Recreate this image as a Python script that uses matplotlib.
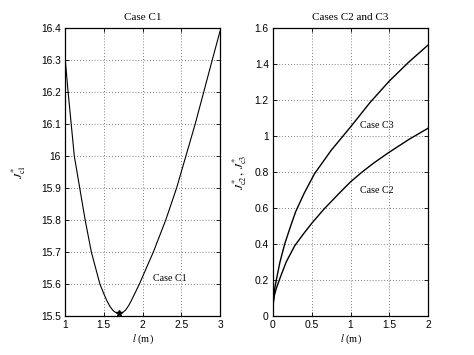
import matplotlib
matplotlib.use("Agg")
import matplotlib.pyplot as plt

# ---- data ----
l_c1 = [1.00, 1.04, 1.08, 1.12, 1.19, 1.26, 1.34, 1.45, 1.50, 1.54, 1.58, 1.62, 1.66, 1.70,
        1.74, 1.78, 1.82, 1.86, 1.91, 1.96, 2.05, 2.14, 2.30, 2.44, 2.56, 2.68, 2.79, 2.90, 3.00]
J_c1 = [16.31, 16.20, 16.10, 16.00, 15.90, 15.80, 15.70, 15.60, 15.57, 15.548, 15.53, 15.517, 15.51, 15.508,
        15.51, 15.518, 15.532, 15.55, 15.575, 15.60, 15.65, 15.70, 15.80, 15.90, 16.00, 16.10, 16.20, 16.30, 16.39]
l_min = [1.70]
J_min = [15.508]

l_c3 = [0.003, 0.01, 0.025, 0.052, 0.09, 0.151, 0.22, 0.293, 0.40, 0.535,
        0.75, 0.923, 1.00, 1.25, 1.50, 1.75, 2.00]
J_c3 = [0.07, 0.10, 0.16, 0.22, 0.30, 0.40, 0.49, 0.58, 0.68, 0.79,
        0.92, 1.01, 1.05, 1.185, 1.305, 1.41, 1.505]

l_c2 = [0.003, 0.015, 0.04, 0.09, 0.17, 0.28, 0.40, 0.50, 0.66, 0.85,
        1.00, 1.15, 1.30, 1.50, 1.75, 2.00]
J_c2 = [0.07, 0.11, 0.15, 0.21, 0.30, 0.39, 0.46, 0.515, 0.595, 0.68,
        0.745, 0.80, 0.85, 0.91, 0.98, 1.043]

xticks_c1 = [1, 1.5, 2, 2.5, 3]
xticklabels_c1 = ["1", "1.5", "2", "2.5", "3"]
yticks_c1 = [15.5, 15.6, 15.7, 15.8, 15.9, 16.0, 16.1, 16.2, 16.3, 16.4]
yticklabels_c1 = ["15.5", "15.6", "15.7", "15.8", "15.9", "16", "16.1", "16.2", "16.3", "16.4"]
xticks_c23 = [0, 0.5, 1, 1.5, 2]
xticklabels_c23 = ["0", "0.5", "1", "1.5", "2"]
yticks_c23 = [0, 0.2, 0.4, 0.6, 0.8, 1.0, 1.2, 1.4, 1.6]
yticklabels_c23 = ["0", "0.2", "0.4", "0.6", "0.8", "1", "1.2", "1.4", "1.6"]

plt.rcParams['mathtext.fontset'] = 'stix'
serif = 'Liberation Serif'
sans = 'Liberation Sans'

fig = plt.figure(figsize=(4.74, 3.55), dpi=100)
ax1 = fig.add_axes([65 / 474, 1 - 316 / 355, 155 / 474, 288 / 355])
ax2 = fig.add_axes([273 / 474, 1 - 316 / 355, 155 / 474, 288 / 355])

for ax in (ax1, ax2):
    ax.grid(True, linestyle=(0, (1, 2.5)), color='#555555', linewidth=0.6)
    ax.tick_params(direction='in', length=3, width=0.6, top=True, right=True,
                   labelsize=7.4, pad=3)
    for s in ax.spines.values():
        s.set_linewidth(0.9)

ax1.plot(l_c1, J_c1, color='black', linewidth=0.8)
ax1.plot(l_min, J_min, marker='*', color='black', markersize=5, linestyle='none')
ax1.set_xlim(1, 3)
ax1.set_ylim(15.5, 16.4)
ax1.set_xticks(xticks_c1)
ax1.set_xticklabels(xticklabels_c1, family=sans)
ax1.set_yticks(yticks_c1)
ax1.set_yticklabels(yticklabels_c1, family=sans)
ax1.set_title('Case C1', family=serif, fontsize=8, pad=6)
ax1.set_xlabel(r'$l$ (m)', family=serif, fontsize=7.5, labelpad=2)
ax1.set_ylabel(r'$J^{*}_{\mathrm{c1}}$', fontsize=8.5, labelpad=9)
ax1.text(2.35, 15.616, 'Case C1', family=serif, fontsize=7.2, ha='center', va='center')

ax2.plot(l_c3, J_c3, color='black', linewidth=1.0)
ax2.plot(l_c2, J_c2, color='black', linewidth=1.0)
ax2.set_xlim(0, 2)
ax2.set_ylim(0, 1.6)
ax2.set_xticks(xticks_c23)
ax2.set_xticklabels(xticklabels_c23, family=sans)
ax2.set_yticks(yticks_c23)
ax2.set_yticklabels(yticklabels_c23, family=sans)
ax2.set_title('Cases C2 and C3', family=serif, fontsize=8, pad=6)
ax2.set_xlabel(r'$l$ (m)', family=serif, fontsize=7.5, labelpad=2)
ax2.set_ylabel(r'$J^{*}_{\mathrm{c2}}\,,\,J^{*}_{\mathrm{c3}}$', fontsize=8.5, labelpad=4)
ax2.text(1.34, 1.056, 'Case C3', family=serif, fontsize=7.2, ha='center', va='center')
ax2.text(1.34, 0.70, 'Case C2', family=serif, fontsize=7.2, ha='center', va='center')

fig.savefig('out.png', dpi=100)
